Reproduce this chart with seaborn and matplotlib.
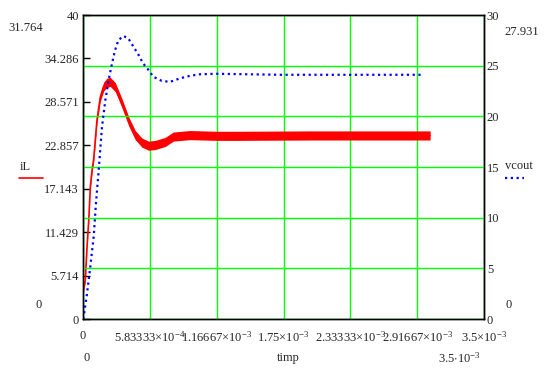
import numpy as np
import matplotlib
matplotlib.use("Agg")
import matplotlib.pyplot as plt
import seaborn as sns

# time in units of 1e-4 s
t_il = [0, 0.01, 0.2, 0.35, 0.5, 0.64, 0.79, 0.93, 1.22, 1.51, 1.81, 2.1, 2.38,
        2.82, 3.40, 3.99, 4.56, 5.15, 5.73, 6.31, 7.18, 7.88, 9.34, 11.67, 13.4,
        20.0, 30.3]
il_mid = [0, 3.5, 5.1, 9.5, 13.0, 17.4, 19.6, 21.0, 26.2, 29.2, 30.6, 31.1, 31.2,
          30.5, 28.4, 26.0, 24.2, 23.2, 22.8, 22.9, 23.3, 24.0, 24.2, 24.1, 24.1,
          24.15, 24.15]
il_half = [0.1, 0.1, 0.15, 0.2, 0.2, 0.25, 0.3, 0.35, 0.45, 0.55, 0.6, 0.6, 0.6,
           0.6, 0.6, 0.6, 0.6, 0.6, 0.6, 0.6, 0.6, 0.6, 0.6, 0.6, 0.6,
           0.6, 0.6]

t_vc = [0, 0.06, 0.35, 0.64, 0.93, 1.13, 1.37, 1.66, 1.95, 2.24, 2.53, 2.79, 3.08,
        3.52, 3.95, 4.39, 4.83, 5.26, 5.70, 6.14, 6.87, 7.59, 8.47, 9.34, 10.2,
        11.67, 17.2, 29.7]
vcout = [0, 0.23, 2.5, 5.2, 8.1, 11.4, 14.7, 19.0, 21.6, 23.6, 25.2, 26.5, 27.5,
         27.93, 27.7, 26.9, 26.1, 25.2, 24.6, 23.9, 23.5, 23.4, 23.75, 24.0, 24.15,
         24.2, 24.1, 24.1]

x_ticks = [0, 5.83333e-4, 1.16667e-3, 1.75e-3, 2.33333e-3, 2.91667e-3, 3.5e-3]
x_labels = ["0", r"$\mathregular{5.83333{\times}10^{-4}}$",
            r"$\mathregular{1.16667{\times}10^{-3}}$",
            r"$\mathregular{1.75{\times}10^{-3}}$",
            r"$\mathregular{2.33333{\times}10^{-3}}$",
            r"$\mathregular{2.91667{\times}10^{-3}}$",
            r"$\mathregular{3.5{\times}10^{-3}}$"]
left_ticks = [0, 5.714, 11.429, 17.143, 22.857, 28.571, 34.286, 40]
left_labels = ["0", "5.714", "11.429", "17.143", "22.857", "28.571", "34.286", "40"]
right_ticks = [0, 5, 10, 15, 20, 25, 30]

sns.set_style("white")
plt.rcParams['font.family'] = ['Liberation Serif', 'DejaVu Serif']
plt.rcParams['mathtext.fontset'] = 'custom'
plt.rcParams['mathtext.rm'] = 'Liberation Serif'

fig = plt.figure(figsize=(5.5, 3.77), dpi=100)
ax = fig.add_axes([83 / 550, 1 - 319 / 377, 401 / 550, 304 / 377])
ax2 = ax.twinx()

t_il_s = np.array(t_il) * 1e-4
mid = np.array(il_mid)
half = np.array(il_half)
ax.fill_between(t_il_s, mid - half, mid + half, color="red", lw=0, zorder=3)
sns.lineplot(x=t_il_s, y=mid, ax=ax, color="red", lw=1.2, zorder=3)

dots = (0, (1, 1.6))
sns.lineplot(x=np.array(t_vc) * 1e-4, y=vcout, ax=ax2, color="blue",
             linestyle=dots, lw=1.6)

ax.set_xlim(0, 3.5e-3)
ax.set_ylim(0, 40)
ax2.set_ylim(0, 30)

ax.set_xticks(x_ticks)
ax.set_xticklabels(x_labels, fontsize=9)
ax.set_yticks(left_ticks)
ax.set_yticklabels(left_labels, fontsize=9)
ax2.set_yticks(right_ticks)
ax2.set_yticklabels([str(v) for v in right_ticks], fontsize=9)

ax.tick_params(axis='x', length=0, pad=8)
ax.tick_params(axis='y', direction='in', length=5, width=1, color='black', pad=3)
ax2.tick_params(axis='y', length=0, pad=2)

ax.set_axisbelow(True)
ax.grid(axis='x', color=(0, 1, 0), lw=1)
ax.grid(axis='y', visible=False)
ax2.grid(axis='y', color=(0, 1, 0), lw=1)
ax2.grid(axis='x', visible=False)

for a in (ax, ax2):
    for s in a.spines.values():
        s.set_color("black")
        s.set_linewidth(1)
    a.set_xlabel("")
    a.set_ylabel("")

# Mathcad-style side labels and range markers
def ftext(x, y, s, **kw):
    fig.text(x / 550, 1 - y / 377, s, fontsize=9, va='center', **kw)

ftext(8, 28, "31.764")
ftext(36, 305, "0")
ftext(84, 358, "0")
ftext(438, 358, r"$\mathregular{3.5{\cdot}10^{-3}}$")
ftext(504, 32, "27.931")
ftext(506, 305, "0")
ftext(288, 358, "timp", ha='center')
ftext(20, 167, "iL")
ftext(505, 166, "vcout")
fig.add_artist(plt.Line2D([19 / 550, 43 / 550], [1 - 178 / 377, 1 - 178 / 377],
                          color="red", lw=1.2))
fig.add_artist(plt.Line2D([505 / 550, 524 / 550], [1 - 178 / 377, 1 - 178 / 377],
                          color="blue", lw=1.6, linestyle=dots))

fig.savefig("out.png", dpi=100)
